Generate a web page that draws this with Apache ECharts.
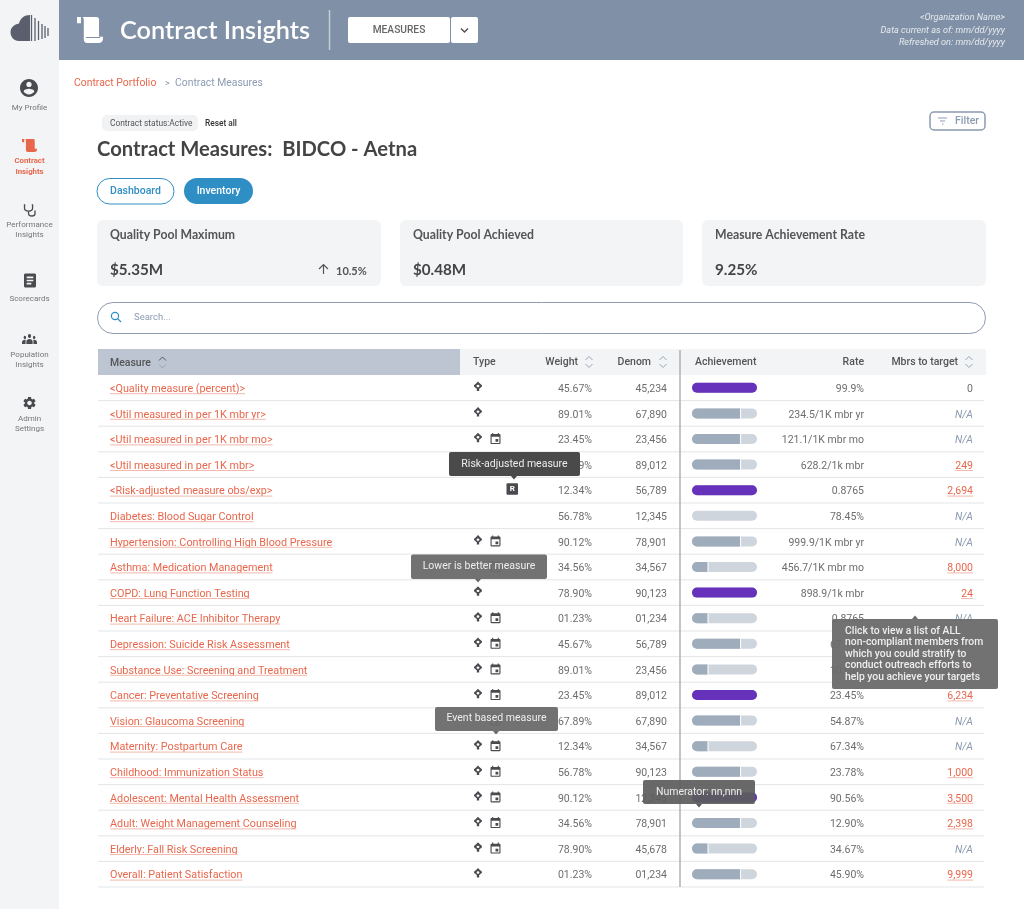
<!DOCTYPE html>
<html>
<head>
<meta charset="utf-8">
<title>Contract Measures</title>
<script src="https://cdn.jsdelivr.net/npm/echarts@6/dist/echarts.min.js"></script>
<style>
  html, body { margin: 0; padding: 0; background: #fff; }
  #main { width: 1024px; height: 909px; }
</style>
</head>
<body>
<div id="main"></div>
<script>
// table data
var measures = [
  '<Quality measure (percent)>', '<Util measured in per 1K mbr yr>', '<Util measured in per 1K mbr mo>',
  '<Util measured in per 1K mbr>', '<Risk-adjusted measure obs/exp>', 'Diabetes: Blood Sugar Control',
  'Hypertension: Controlling High Blood Pressure', 'Asthma: Medication Management', 'COPD: Lung Function Testing',
  'Heart Failure: ACE Inhibitor Therapy', 'Depression: Suicide Risk Assessment', 'Substance Use: Screening and Treatment',
  'Cancer: Preventative Screening', 'Vision: Glaucoma Screening', 'Maternity: Postpartum Care',
  'Childhood: Immunization Status', 'Adolescent: Mental Health Assessment', 'Adult: Weight Management Counseling',
  'Elderly: Fall Risk Screening', 'Overall: Patient Satisfaction'
];
var lowerIsBetter = [1, 1, 1, 0, 0, 0, 1, 0, 1, 1, 1, 1, 1, 0, 1, 1, 1, 1, 1, 1];
var eventBased = [0, 0, 1, 0, 0, 0, 1, 1, 0, 1, 1, 1, 1, 1, 1, 1, 1, 1, 1, 0];
var riskAdjusted = [0, 0, 0, 0, 1, 0, 0, 0, 0, 0, 0, 0, 0, 0, 0, 0, 0, 0, 0, 0];
var weights = ['45.67%', '89.01%', '23.45%', '67.89%', '12.34%', '56.78%', '90.12%', '34.56%', '78.90%', '01.23%',
  '45.67%', '89.01%', '23.45%', '67.89%', '12.34%', '56.78%', '90.12%', '34.56%', '78.90%', '01.23%'];
var denoms = ['45,234', '67,890', '23,456', '89,012', '56,789', '12,345', '78,901', '34,567', '90,123', '01,234',
  '56,789', '23,456', '89,012', '67,890', '34,567', '90,123', '12,345', '78,901', '45,678', '01,234'];
var achievement = [100, 74, 74, 74, 100, 0, 74, 24, 100, 24, 74, 24, 100, 74, 24, 74, 100, 74, 24, 74];
var rates = ['99.9%', '234.5/1K mbr yr', '121.1/1K mbr mo', '628.2/1k mbr', '0.8765', '78.45%', '999.9/1K mbr yr',
  '456.7/1K mbr mo', '898.9/1k mbr', '0.8765', '67.12%', '10.01%', '23.45%', '54.87%', '67.34%', '23.78%', '90.56%',
  '12.90%', '34.67%', '45.90%'];
var mbrsToTarget = ['0', 'N/A', 'N/A', '249', '2,694', 'N/A', 'N/A', '8,000', '24', 'N/A', 'N/A', '1,234', '6,234',
  'N/A', 'N/A', '1,000', '3,500', '2,398', 'N/A', '9,999'];
var cardTitles = ['Quality Pool Maximum', 'Quality Pool Achieved', 'Measure Achievement Rate'];
var cardValues = ['$5.35M', '$0.48M', '9.25%'];
var navLabels = [['My Profile'], ['Contract', 'Insights'], ['Performance', 'Insights'], ['Scorecards'], ['Population', 'Insights'], ['Admin', 'Settings']];

var RED = '#e8674c', GREY = '#6d6d6d', SLATE = '#8b9bb0', BLUE = '#2f8fc4', DARK = '#4a4a4f';
var HEAD = 'Lato, sans-serif', BODY = 'Roboto, sans-serif';

var ICONS = {
  profile: 'M12 2C6.48 2 2 6.48 2 12s4.48 10 10 10 10-4.48 10-10S17.52 2 12 2zm0 3c1.66 0 3 1.34 3 3s-1.34 3-3 3-3-1.34-3-3 1.34-3 3-3zm0 14.2c-2.5 0-4.71-1.28-6-3.22.03-1.99 4-3.08 6-3.08 1.99 0 5.97 1.09 6 3.08-1.29 1.94-3.5 3.22-6 3.22z',
  event: 'M17 12h-5v5h5v-5zM16 1v2H8V1H6v2H5c-1.11 0-1.99.9-1.99 2L3 19c0 1.1.89 2 2 2h14c1.1 0 2-.9 2-2V5c0-1.1-.9-2-2-2h-1V1h-2zm3 18H5V8h14v11z',
  doc: 'M19 3H5c-1.1 0-2 .9-2 2v14c0 1.1.9 2 2 2h14c1.1 0 2-.9 2-2V5c0-1.1-.9-2-2-2zm-5 14H7v-2h7v2zm3-4H7v-2h10v2zm0-4H7V7h10v2z',
  people: 'M12 5a2.6 2.6 0 1 1 0 5.2A2.6 2.6 0 0 1 12 5zM4.6 7.4a2 2 0 1 1 0 4 2 2 0 0 1 0-4zm14.8 0a2 2 0 1 1 0 4 2 2 0 0 1 0-4zM12 11.4c2.8 0 5 1.3 5 3.2V18H7v-3.4c0-1.9 2.2-3.2 5-3.2zM4.4 12.4c.7 0 1.2.1 1.6.2-.2.6-.3 1.2-.3 2V18H0v-2.2c0-2 2-3.4 4.4-3.4zm15.2 0c2.4 0 4.4 1.4 4.4 3.4V18h-5.7v-3.4c0-.8-.1-1.4-.3-2 .4-.1 1-.2 1.6-.2z',
  gear: 'M19.14 12.94c.04-.3.06-.61.06-.94 0-.32-.02-.64-.07-.94l2.03-1.58c.18-.14.23-.41.12-.61l-1.92-3.32c-.12-.22-.37-.29-.59-.22l-2.39.96c-.5-.38-1.03-.7-1.62-.94l-.36-2.54c-.04-.24-.24-.41-.48-.41h-3.84c-.24 0-.43.17-.47.41l-.36 2.54c-.59.24-1.13.57-1.62.94l-2.39-.96c-.22-.08-.47 0-.59.22L2.74 8.87c-.12.21-.08.47.12.61l2.03 1.58c-.05.3-.09.63-.09.94s.02.64.07.94l-2.03 1.58c-.18.14-.23.41-.12.61l1.92 3.32c.12.22.37.29.59.22l2.39-.96c.5.38 1.03.7 1.62.94l.36 2.54c.05.24.24.41.48.41h3.84c.24 0 .44-.17.47-.41l.36-2.54c.59-.24 1.13-.56 1.62-.94l2.39.96c.22.08.47 0 .59-.22l1.92-3.32c.12-.22.07-.47-.12-.61l-2.01-1.58zM12 15.6c-1.98 0-3.6-1.62-3.6-3.6s1.62-3.6 3.6-3.6 3.6 1.62 3.6 3.6-1.62 3.6-3.6 3.6z',
  scroll: 'M1 1h3.5v5.5H1zM6 1h12q2.5 0 2.5 2.5V18H24v2q-.5 3.5-4 3.5H10Q7 23.5 7 20V3.500Q7 2 6 1z',
  lower: 'M12 0L16 5 20 9Q21 11 20 13L14.500 18V24H9.500V18L4 13Q3 11 4 9L8 5zM12 8.500a3 3 0 1 0 0 6 3 3 0 0 0 0-6z',
  cloud: 'M24 0C17 0 12 4 10.500 10 4.500 11 0 15 0 20.500 0 26 4.500 31 10 31H24z'
};

// helpers for page furniture, all in px of the 1024x909 page
function box(x, y, w, h, fill, r, stroke, lw) {
  return { type: 'rect', shape: { x: x, y: y, width: w, height: h, r: r || 0 },
    style: { fill: fill, stroke: stroke || null, lineWidth: lw || 0 } };
}
function label(s, x, y, font, fill, align) {
  return { type: 'text', style: { text: s, x: x, y: y + 1, font: font, fill: fill, align: align || 'left', verticalAlign: 'middle' } };
}
function icon(name, x, y, w, h, fill) {
  return { type: 'path', shape: { pathData: ICONS[name], x: x, y: y, width: w, height: h, layout: 'cover' }, style: { fill: fill } };
}
function seg(x1, y1, x2, y2, color, lw) {
  return { type: 'line', shape: { x1: x1, y1: y1, x2: x2, y2: y2 }, style: { stroke: color, lineWidth: lw || 1, fill: null } };
}
function tri(pts, fill) {
  return { type: 'polygon', shape: { points: pts }, style: { fill: fill } };
}
function sortCaret(x, y, upColor, downColor) {
  return [
    { type: 'polyline', shape: { points: [[x - 3.5, y - 2], [x, y - 5.5], [x + 3.5, y - 2]] }, style: { stroke: upColor, lineWidth: 1, fill: null } },
    { type: 'polyline', shape: { points: [[x - 3.5, y + 2], [x, y + 5.5], [x + 3.5, y + 2]] }, style: { stroke: downColor, lineWidth: 1, fill: null } }
  ];
}

var measureCtx = document.createElement('canvas').getContext('2d');
function textWidth(s, font) {
  measureCtx.font = font;
  return measureCtx.measureText(s).width;
}

function backLayer() {
  var els = [];
  // sidebar and header
  els.push(box(0, 0, 59, 909, '#f3f4f6'));
  els.push(box(59, 0, 965, 60, '#8090a6'));
  els.push(icon('cloud', 10.5, 15, 19.5, 26, '#5b5e6c'));
  [[31.5, 15, 41], [35, 18, 41], [38.5, 21, 40], [42, 24, 39], [45, 26, 38], [48, 28, 36]].forEach(function (b) {
    els.push(seg(b[0], b[1], b[0], b[2], '#5b5e6c', 1.3));
  });
  els.push(icon('scroll', 77, 17, 26, 26, '#fff'));
  els.push(seg(86, 37.500, 100, 37.500, '#8090a6', 1));
  els.push(label('Contract Insights', 120, 29.5, '600 25.3px ' + HEAD, '#fff'));
  els.push(seg(329.5, 10, 329.5, 50, '#c5ccd7', 1.5));
  els.push(box(348, 17, 102, 26, '#fff', 2));
  els.push(box(451, 17, 27, 26, '#fff', 2));
  els.push(label('MEASURES', 399, 29.5, '500 10.2px ' + BODY, '#666', 'center'));
  els.push({ type: 'polyline', shape: { points: [[461, 28.5], [464.500, 32], [468, 28.5]] }, style: { stroke: '#555', lineWidth: 1.5, fill: null } });
  ['<Organization Name>', 'Data current as of: mm/dd/yyyy', 'Refreshed on: mm/dd/yyyy'].forEach(function (s, i) {
    els.push(label(s, 1005, 16.6 + i * 12.7, 'italic 9.15px ' + BODY, '#e6eaef', 'right'));
  });

  // sidebar nav
  var navIcons = ['profile', 'scroll', null, 'doc', 'people', 'gear'];
  var navBox = [[20, 79, 18, 18], [22, 139, 15, 13], null, [24, 273.5, 12, 14], [22, 334, 15, 10], [23.5, 397, 12, 12]];
  var navText = [106.5, 160.5, 223.5, 297.5, 353.5, 417.5];
  navLabels.forEach(function (lines, i) {
    if (navIcons[i]) {
      var b = navBox[i];
      els.push(icon(navIcons[i], b[0], b[1], b[2], b[3], i === 1 ? RED : DARK));
    }
    lines.forEach(function (t, j) {
      els.push(label(t, 29.5, navText[i] + j * 10.2, (i === 1 ? '700 7.8px ' : '8px ') + BODY, i === 1 ? RED : '#777', 'center'));
    });
  });
  // stethoscope for Performance Insights
  els.push({ type: 'path', shape: { pathData: 'M1 1H0v6a5 5 0 0 0 10 0V1H9M5 12v5a4 4 0 0 0 8 0v-6', x: 24.5, y: 205, width: 10.5, height: 11, layout: 'cover' },
    style: { fill: null, stroke: DARK, lineWidth: 1.3 } });

  // breadcrumb, filters, title
  els.push(label('Contract Portfolio', 74, 82.5, '10.4px ' + BODY, RED));
  els.push(label('>', 165, 82.5, '9px ' + BODY, SLATE));
  els.push(label('Contract Measures', 175, 82.5, '10.4px ' + BODY, SLATE));
  els.push(box(102, 115, 96, 16, '#f1f2f4', 5));
  els.push(label('Contract status:Active', 110, 122.5, '8.4px ' + BODY, '#555'));
  els.push(label('Reset all', 205, 122.5, '500 8.3px ' + BODY, '#333'));
  els.push(label('Contract Measures:  BIDCO - Aetna', 97, 148, '700 20.2px ' + HEAD, '#444'));
  els.push(box(97, 178.500, 77, 25.500, '#fff', 13, BLUE, 1));
  els.push(label('Dashboard', 135.5, 190.5, '500 10.5px ' + BODY, BLUE, 'center'));
  els.push(box(184, 178, 69, 26, BLUE, 13));
  els.push(label('Inventory', 218.5, 190.5, '500 10.5px ' + BODY, '#fff', 'center'));
  els.push(box(930, 112, 55, 18, '#fff', 4, SLATE, 1.5));
  els.push(seg(938, 118, 947, 118, SLATE, 1));
  els.push(seg(940, 121, 945, 121, SLATE, 1));
  els.push(seg(942, 124, 943.5, 124, SLATE, 1));
  els.push(label('Filter', 955, 120.5, '500 10.5px ' + BODY, SLATE));

  // summary cards
  cardTitles.forEach(function (t, i) {
    var x = [97, 400, 702][i];
    els.push(box(x, 220, i === 1 ? 283 : 284, 66, '#f3f4f6', 6));
    els.push(label(t, x + 13, 234.5, '700 12.25px ' + HEAD, '#555'));
    els.push(label(cardValues[i], x + 13, 269, '700 15.2px ' + HEAD, '#444'));
  });
  els.push({ type: 'polyline', shape: { points: [[319, 269], [323.5, 264.5], [328, 269]] }, style: { stroke: '#555', lineWidth: 1.2, fill: null } });
  els.push(seg(323.5, 265, 323.5, 274, '#555', 1.2));
  els.push(label('10.5%', 336, 270, '700 11px ' + HEAD, '#555'));

  // search box
  els.push(box(97.5, 302.5, 888, 31, '#fff', 15.5, '#8f9caf', 1));
  els.push({ type: 'circle', shape: { cx: 115, cy: 316, r: 3.6 }, style: { fill: null, stroke: BLUE, lineWidth: 1.2 } });
  els.push(seg(117.6, 318.6, 121, 322, BLUE, 1.3));
  els.push(label('Search...', 134, 317, '9.5px ' + BODY, SLATE));

  // table header
  els.push(box(98, 349, 888, 26, '#f3f4f6'));
  els.push(box(98, 349, 362, 26, '#bcc5d1'));
  var hf = '500 10.5px ' + BODY;
  els.push(label('Measure', 110, 362.5, hf, '#555'));
  els = els.concat(sortCaret(162.5, 362.5, '#555', '#9aa5b4'));
  els.push(label('Type', 473, 361.5, hf, '#555'));
  els.push(label('Weight', 578, 361.5, hf, '#555', 'right'));
  els = els.concat(sortCaret(589, 362, '#9aa5b4', '#9aa5b4'));
  els.push(label('Denom', 651, 361.5, hf, '#555', 'right'));
  els = els.concat(sortCaret(663, 362, '#9aa5b4', '#9aa5b4'));
  els.push(label('Achievement', 695, 361.5, hf, '#555'));
  els.push(label('Rate', 864, 361.5, hf, '#555', 'right'));
  els.push(label('Mbrs to target', 958, 361.5, hf, '#555', 'right'));
  els = els.concat(sortCaret(969, 362, '#9aa5b4', '#9aa5b4'));
  return els;
}

function frontLayer() {
  var els = [];
  var tf = '10.5px ' + BODY;
  var tipFill = 'rgba(106,106,106,0.95)';
  els.push(seg(680, 350, 680, 887, '#aeb0b3', 1.5));
  // hover tooltips shown in the mock
  els.push(box(449, 452, 131, 24, '#4a4a4a', 2));
  els.push(tri([[511, 476], [517, 476], [514, 479.500]], '#4a4a4a'));
  els.push(label('Risk-adjusted measure', 514.5, 463, tf, '#eee', 'center'));
  els.push(box(411, 554.500, 136, 24.500, tipFill, 2));
  els.push(tri([[475, 579], [481, 579], [478, 582.500]], '#6a6a6a'));
  els.push(label('Lower is better measure', 479, 565.5, tf, '#eee', 'center'));
  els.push(box(435, 707, 123, 24, tipFill, 2));
  els.push(tri([[493, 731], [499, 731], [496, 734.500]], '#6a6a6a'));
  els.push(label('Event based measure', 496.5, 717.5, tf, '#eee', 'center'));
  els.push(box(643, 780, 112, 24, 'rgba(92,92,92,0.92)', 2));
  els.push(tri([[696, 804], [702, 804], [699, 807.500]], '#5c5c5c'));
  els.push(label('Numerator: nn,nnn', 699, 791, tf, '#eee', 'center'));
  els.push(box(832, 619, 166, 70, tipFill, 2));
  els.push(tri([[912, 619], [918, 619], [915, 615.500]], '#6a6a6a'));
  ['Click to view a list of ALL', 'non-compliant members from', 'which you could stratify to',
    'conduct outreach efforts to', 'help you achieve your targets'].forEach(function (s, i) {
    els.push(label(s, 845, 630 + i * 11.55, '500 10.35px ' + BODY, '#eee'));
  });
  return els;
}

function renderRow(params, api) {
  var i = api.value(0);
  var y = api.coord([0, i])[1];
  var band = api.size([0, 1])[1];
  var mid = y + 0.6;
  var font = '10.5px ' + BODY;
  var els = [seg(98, y + band / 2, 984, y + band / 2, '#e3e5e8', 1)];
  var nameFont = '10.8px ' + BODY;
  var w = textWidth(measures[i], nameFont);
  els.push(label(measures[i], 110, mid, nameFont, RED));
  els.push(seg(110, mid + 5.3, 110 + w, mid + 5.3, '#f2b9ac', 1));
  if (lowerIsBetter[i]) els.push(icon('lower', 474, y - 6.3, 8, 9.500, DARK));
  if (eventBased[i]) els.push(icon('event', 490.5, y - 6, 10, 11, DARK));
  if (riskAdjusted[i]) {
    els.push(box(506.5, y - 6.9, 11.500, 11.500, DARK, 1));
    els.push(label('R', 512.2, y - 2, '700 8px ' + BODY, '#fff', 'center'));
  }
  els.push(label(weights[i], 592, mid, font, GREY, 'right'));
  els.push(label(denoms[i], 667, mid, font, GREY, 'right'));
  els.push(label(rates[i], 864, mid, font, GREY, 'right'));
  var m = mbrsToTarget[i];
  if (m === 'N/A') {
    els.push(label(m, 973, mid, 'italic ' + font, SLATE, 'right'));
  } else if (m === '0') {
    els.push(label(m, 973, mid, font, GREY, 'right'));
  } else {
    els.push(label(m, 973, mid, font, RED, 'right'));
    els.push(seg(973 - textWidth(m, font), mid + 5.3, 973, mid + 5.3, '#f2b9ac', 1));
  }
  return { type: 'group', children: els };
}

var chart = echarts.init(document.getElementById('main'), null, { renderer: 'canvas' });
chart.setOption({
  animation: false,
  backgroundColor: '#fff',
  grid: { left: 692, width: 65, top: 375, height: 512 },
  xAxis: { type: 'value', min: 0, max: 100, show: false },
  yAxis: { type: 'category', inverse: true, data: measures, show: false },
  tooltip: { show: false },
  series: [
    {
      type: 'custom', coordinateSystem: 'none', z: 0, silent: true, data: [0],
      renderItem: function () { return { type: 'group', children: backLayer() }; }
    },
    {
      type: 'custom', name: 'rows', z: 1, silent: true, clip: false,
      data: measures.map(function (m, i) { return [i]; }),
      encode: { y: 0 },
      renderItem: renderRow
    },
    {
      type: 'bar', name: 'Achieved', stack: 'a', barWidth: 10, z: 2, silent: true,
      showBackground: true,
      backgroundStyle: { color: '#cfd5dd', borderRadius: 5 },
      data: achievement.map(function (v) {
        return {
          value: v,
          itemStyle: {
            color: v === 100 ? '#6631bb' : '#9eacbc',
            borderRadius: v === 100 ? 5 : [5, 0, 0, 5]
          }
        };
      })
    },
    {
      type: 'bar', name: 'Gap', stack: 'a', barWidth: 10, z: 2, silent: true,
      itemStyle: { color: '#fff' },
      data: achievement.map(function (v) { return v > 0 && v < 100 ? 1.5 : 0; })
    },
    {
      type: 'custom', coordinateSystem: 'none', z: 10, silent: true, data: [0],
      renderItem: function () { return { type: 'group', children: frontLayer() }; }
    }
  ]
});
</script>
</body>
</html>
